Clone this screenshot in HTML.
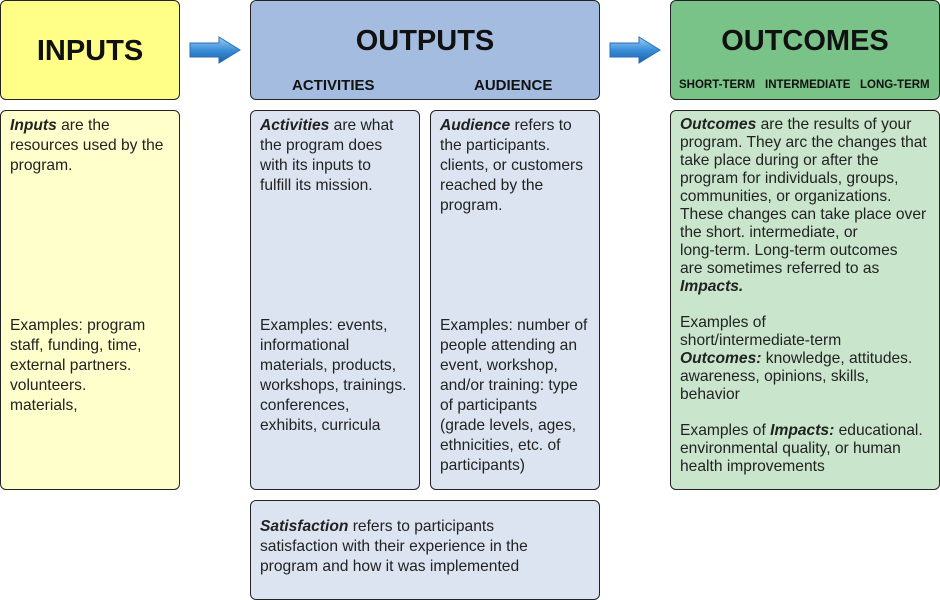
<!DOCTYPE html>
<html><head><meta charset="utf-8"><style>
body{margin:0;width:940px;height:600px;background:#fff;position:relative;font-family:"Liberation Sans","DejaVu Sans",sans-serif;overflow:hidden}
.b{position:absolute;box-sizing:border-box;border:1px solid #222;border-radius:6px}
.t{position:absolute;font-size:15.6px;color:#222;line-height:20px;white-space:nowrap}
.h{position:absolute;font-weight:bold;color:#111;white-space:nowrap}
</style></head><body>
<div class="b" style="left:0;top:0;width:180px;height:100px;background:#ffff88"></div>
<div class="b" style="left:250px;top:0;width:350px;height:100px;background:#a4bce0"></div>
<div class="b" style="left:670px;top:0;width:270px;height:100px;background:#7ac388"></div>
<div class="h" style="left:0;width:180px;text-align:center;top:35px;font-size:29px">INPUTS</div>
<div class="h" style="left:250px;width:350px;text-align:center;top:25px;font-size:29px">OUTPUTS</div>
<div class="h" style="left:292px;top:77px;font-size:15px">ACTIVITIES</div>
<div class="h" style="left:474px;top:77px;font-size:15px">AUDIENCE</div>
<div class="h" style="left:670px;width:270px;text-align:center;top:25px;font-size:29px">OUTCOMES</div>
<div class="h" style="left:679px;top:79px;font-size:11.5px">SHORT-TERM</div>
<div class="h" style="left:765px;top:79px;font-size:11.5px">INTERMEDIATE</div>
<div class="h" style="left:860px;top:79px;font-size:11.5px">LONG-TERM</div>

<svg style="position:absolute;left:0;top:0" width="940" height="100">
<defs><linearGradient id="g" x1="0" y1="0" x2="0" y2="1"><stop offset="0" stop-color="#9fd0f5"/><stop offset=".5" stop-color="#3a8fd8"/><stop offset="1" stop-color="#1a5fa8"/></linearGradient></defs>
<path d="M190 43 H219 V37 L240 50 L219 63 V57 H190 Z" fill="url(#g)" stroke="#2a6db8"/>
<path d="M610 43 H639 V37 L660 50 L639 63 V57 H610 Z" fill="url(#g)" stroke="#2a6db8"/>
</svg>

<div class="b" style="left:0;top:110px;width:180px;height:380px;background:#ffffcc"></div>
<div class="b" style="left:250px;top:110px;width:170px;height:380px;background:#dbe4f0"></div>
<div class="b" style="left:430px;top:110px;width:170px;height:380px;background:#dbe4f0"></div>
<div class="b" style="left:250px;top:500px;width:350px;height:100px;background:#dbe4f0"></div>
<div class="b" style="left:670px;top:110px;width:270px;height:380px;background:#c9e5cc"></div>

<div class="t" style="left:10px;top:116px"><b><i>Inputs</i></b> are the<br>resources used by the<br>program.</div>
<div class="t" style="left:10px;top:316px">Examples: program<br>staff, funding, time,<br>external partners.<br>volunteers.<br>materials,</div>

<div class="t" style="left:260px;top:116px"><b><i>Activities</i></b> are what<br>the program does<br>with its inputs to<br>fulfill its mission.</div>
<div class="t" style="left:260px;top:316px">Examples: events,<br>informational<br>materials, products,<br>workshops, trainings.<br>conferences,<br>exhibits, curricula</div>

<div class="t" style="left:440px;top:116px"><b><i>Audience</i></b> refers to<br>the participants.<br>clients, or customers<br>reached by the<br>program.</div>
<div class="t" style="left:440px;top:316px">Examples: number of<br>people attending an<br>event, workshop,<br>and/or training: type<br>of participants<br>(grade levels, ages,<br>ethnicities, etc. of<br>participants)</div>

<div class="t" style="left:260px;top:517px"><b><i>Satisfaction</i></b> refers to participants<br>satisfaction with their experience in the<br>program and how it was implemented</div>

<div class="t" style="left:680px;top:116px;line-height:18px"><b><i>Outcomes</i></b> are the results of your<br>program. They arc the changes that<br>take place during or after the<br>program for individuals, groups,<br>communities, or organizations.<br>These changes can take place over<br>the short. intermediate, or<br>long-term. Long-term outcomes<br>are sometimes referred to as<br><b><i>Impacts.</i></b><br><br>Examples of<br>short/intermediate-term<br><b><i>Outcomes:</i></b> knowledge, attitudes.<br>awareness, opinions, skills,<br>behavior<br><br>Examples of <b><i>Impacts:</i></b> educational.<br>environmental quality, or human<br>health improvements</div>
</body></html>
